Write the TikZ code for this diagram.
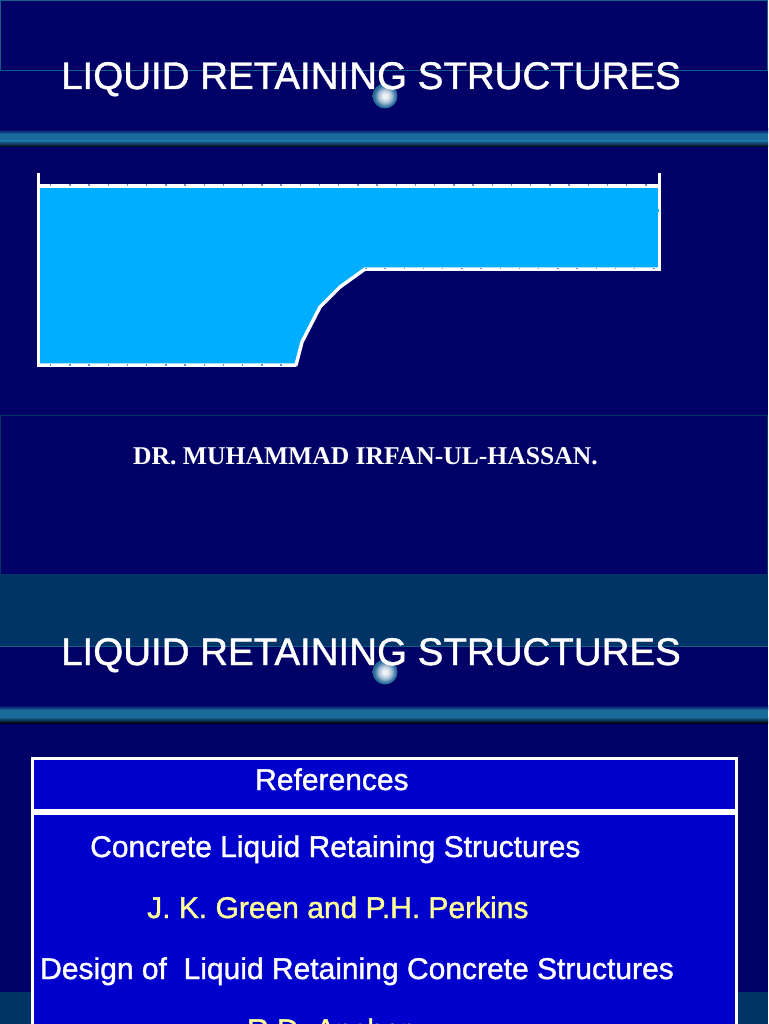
\documentclass[tikz,border=0pt]{standalone}
\usepackage{fontspec}
\setmainfont{Liberation Sans}
\newfontfamily\serifbold{Liberation Serif}[BoldFont={Liberation Serif Bold}]
\definecolor{navybg}{HTML}{000066}
\definecolor{slatebg}{HTML}{003366}
\definecolor{teal}{HTML}{1A6A9A}
\definecolor{edge}{HTML}{0F5F86}
\definecolor{water}{HTML}{00AEFF}
\definecolor{panel}{HTML}{0000CC}
\definecolor{refyellow}{HTML}{FFFF99}
\definecolor{tick}{HTML}{6F8FD0}
\definecolor{ballmid}{HTML}{A8BED6}
\definecolor{ballrim}{HTML}{1F5F90}
\pgfdeclareradialshading{ballshade}{\pgfpoint{0bp}{0bp}}{%
  rgb(0bp)=(0.96,0.96,0.98);
  rgb(5bp)=(0.92,0.93,0.96);
  rgb(13bp)=(0.66,0.75,0.84);
  rgb(22bp)=(0.15,0.42,0.60);
  rgb(50bp)=(0.10,0.36,0.58)}
\tikzset{
  title/.style={anchor=base west,text=white,inner sep=0pt,font=\fontsize{38.5}{42}\selectfont\addfontfeature{FakeBold=1.2}},
  reftext/.style={anchor=base west,text=white,inner sep=0pt,font=\fontsize{30}{34}\selectfont\addfontfeature{FakeBold=1.2}},
  refauthor/.style={reftext,text=refyellow},
  frameline/.style={draw=edge,line width=1pt},
  dimframe/.style={draw=slatebg,line width=1pt},
  wall/.style={draw=white,line width=3.2pt},
  tankline/.style={draw=white,line width=3.5pt,line join=round},
  topline/.style={draw=white,line width=4.4pt},
  ticks/.style={draw=tick,line width=1.4pt,dash pattern=on 1.4pt off 17.8pt},
  panelbox/.style={fill=panel,draw=white,line width=3pt},
  ball/.style={circle,minimum size=25pt,inner sep=0pt,draw=none,shading=ballshade},
}
\newcommand{\slidehead}[1]{%
  \fill[top color=navybg,bottom color=teal] (0,#1-25) rectangle (768,#1-20);
  \fill[teal] (0,#1-20) rectangle (768,#1-13);
  \fill[top color=teal,bottom color=black!85!navybg] (0,#1-13) rectangle (768,#1-7);
}
\begin{document}
\begin{tikzpicture}[x=1pt,y=-1pt]
\useasboundingbox (0,0) rectangle (768,1024);
\clip (0,0) rectangle (768,1024);
% backgrounds
\fill[navybg] (0,0) rectangle (768,1024);
\fill[slatebg] (0,575) rectangle (768,647);
\fill[slatebg] (0,992) rectangle (768,1024);
% slide frame lines
\draw[frameline] (0.5,0.5) rectangle (767.5,70.5);
\draw[dimframe] (0.5,415.5) rectangle (767.5,574.5);
\draw[frameline] (0,646.5) -- (768,646.5);
% bands
\slidehead{154}
\slidehead{730}
% balls
\node[ball] (ballA) at (385,96) {};
\node[ball] (ballB) at (385,672) {};
% titles
\node[title] (titleA) at (61,89) {LIQUID RETAINING STRUCTURES};
\node[title] (titleB) at (61,665) {LIQUID RETAINING STRUCTURES};
% tank
\fill[water] (38,186) -- (659,186) -- (659,269) -- (365,269) -- (340,287) -- (320,307) -- (302,342) -- (296,365) -- (38,365) -- cycle;
\draw[topline] (38,186) -- (659,186);
\draw[tankline] (659,269) -- (365,269) -- (340,287) -- (320,307) -- (302,342) -- (296,365) -- (38,365);
\draw[wall] (38.4,173) -- (38.4,366.5);
\draw[wall] (659.2,173) -- (659.2,270.5);
\fill[water] (657.6,209) rectangle (659.2,212);
\draw[ticks] (50,185) -- (655,185);
\draw[ticks] (654.5,268.5) -- (365,268.5);
\draw[ticks] (50,365) -- (290,365);
% author
\node[anchor=base west,text=white,inner sep=0pt,font=\serifbold\bfseries\fontsize{25.6}{28}\selectfont] (author) at (133,464) {DR. MUHAMMAD IRFAN-UL-HASSAN.};
% references panel
\draw[panelbox] (32,758.5) rectangle (736,810);
\draw[panelbox] (32,813) rectangle (736,1040);
\node[reftext] (refhead) at (255,790) {References};
\node[reftext] (ref1) at (90,857) {Concrete Liquid Retaining Structures};
\node[refauthor] (ref2) at (147,918) {J. K. Green and P.H. Perkins};
\node[reftext] (ref3) at (40,979) {Design of\ \ Liquid Retaining Concrete Structures};
\node[refauthor] (ref4) at (247,1040) {R.D. Anchor};
\end{tikzpicture}
\end{document}
